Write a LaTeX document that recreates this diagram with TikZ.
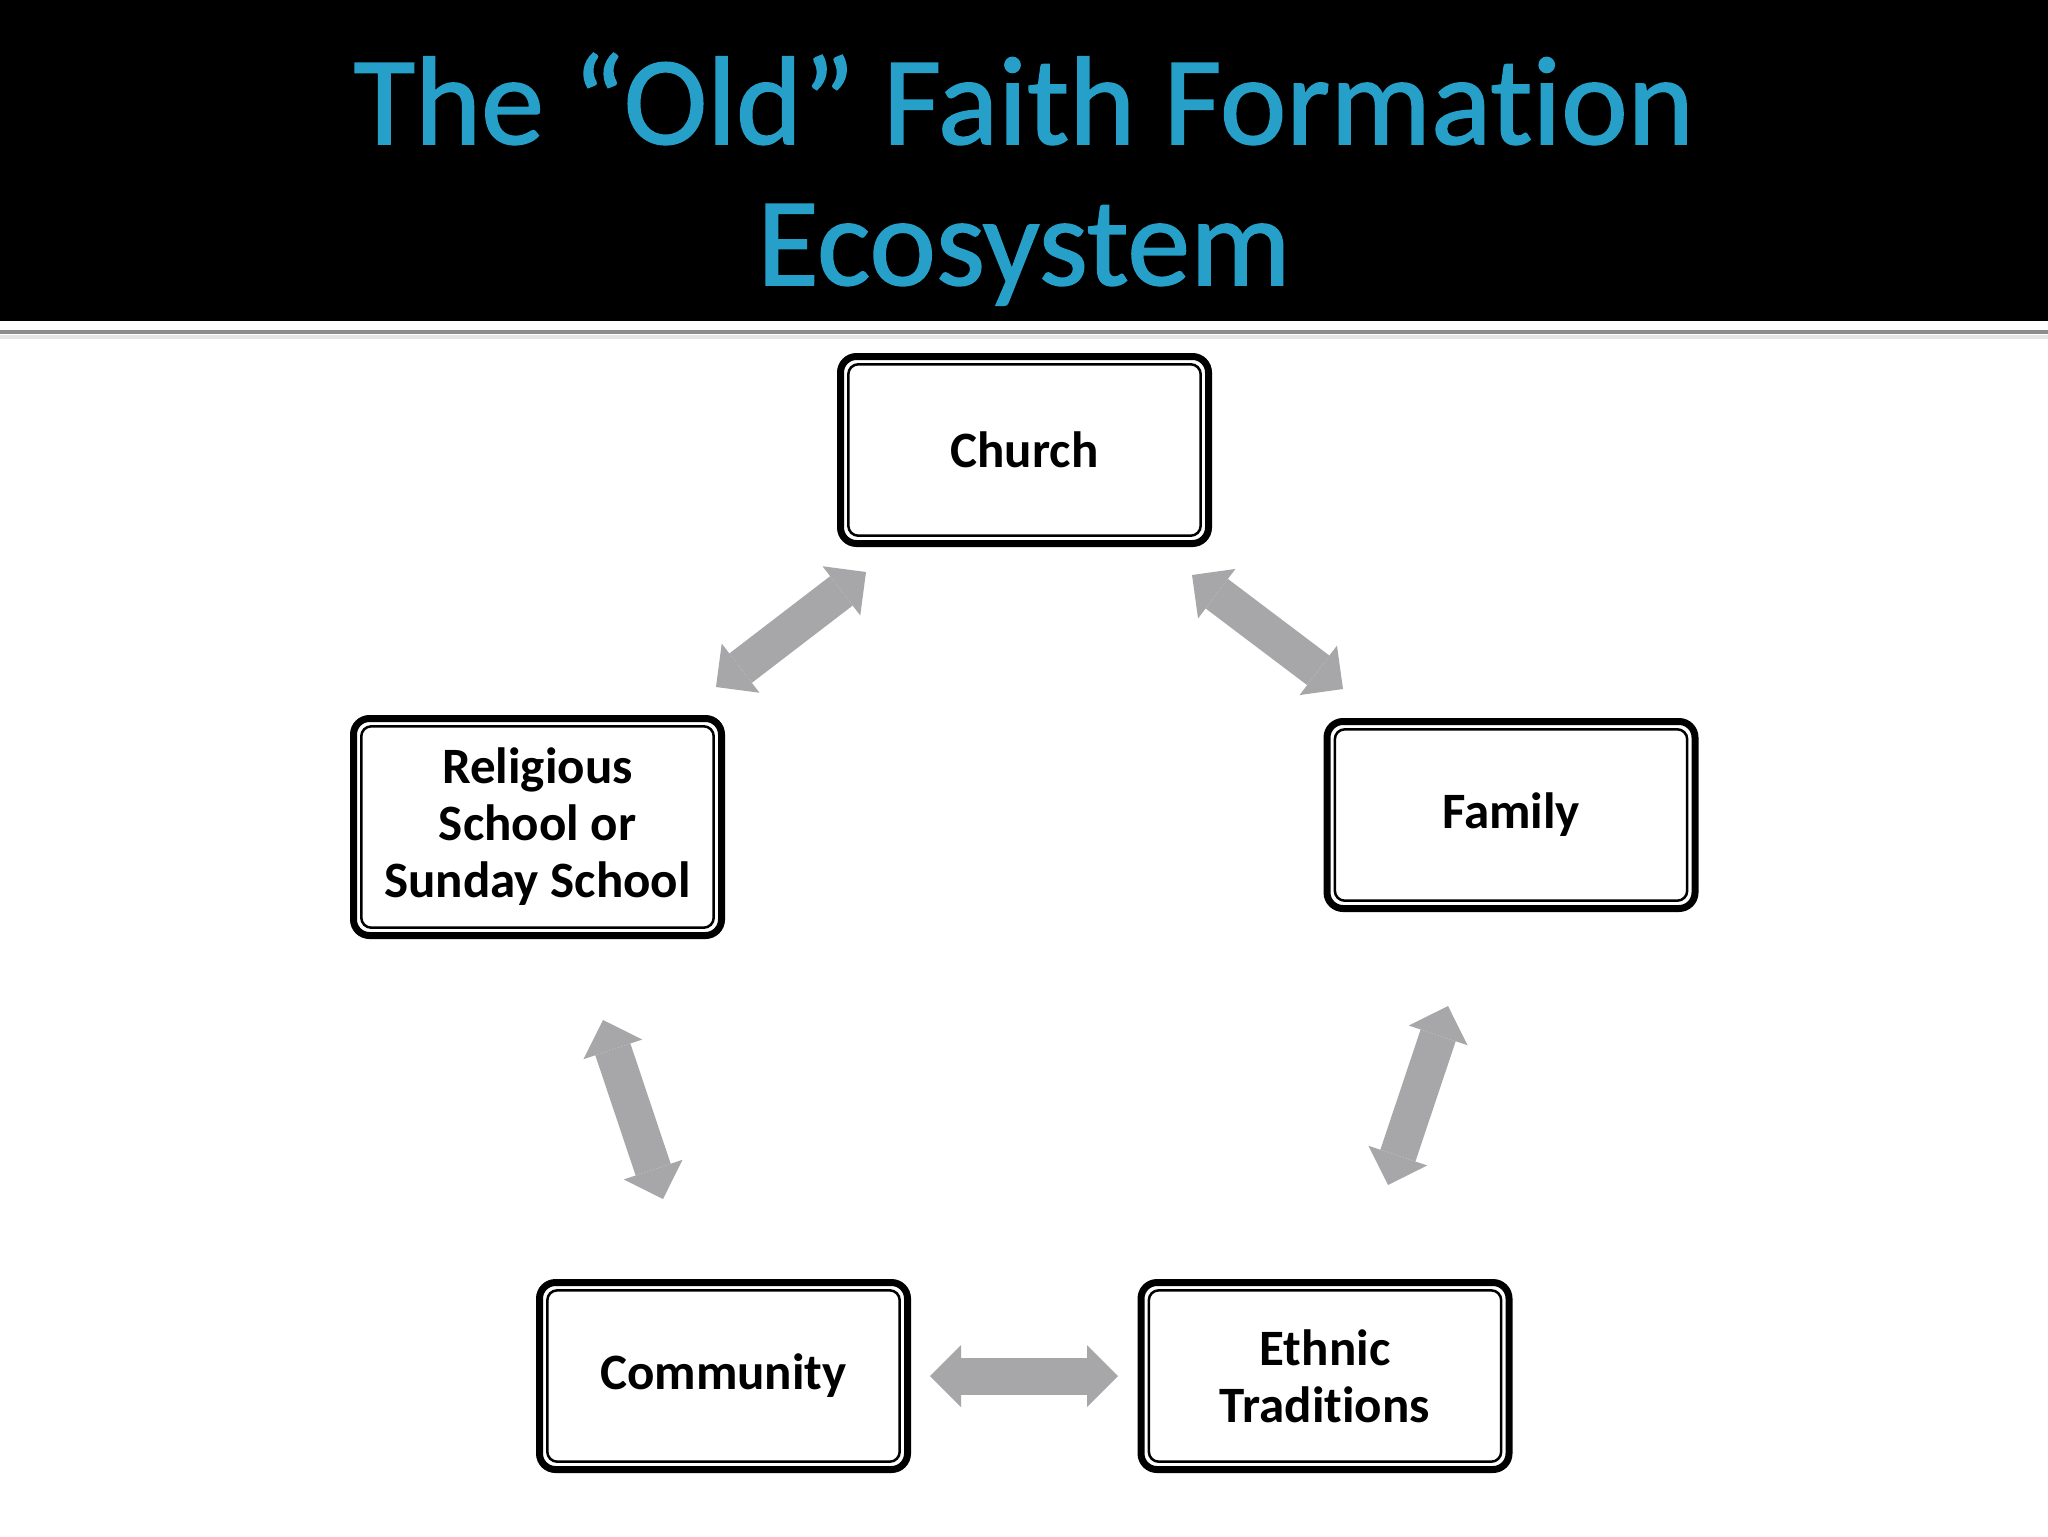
\documentclass[tikz,border=0pt]{standalone}
\usepackage{fontspec}
\setmainfont[Ligatures=NoCommon]{Carlito}
\newfontfamily\titlefont[Ligatures=NoCommon,FakeBold=1.2]{Carlito}
\usetikzlibrary{arrows.meta}
\definecolor{titleblue}{RGB}{38,160,200}
\definecolor{arrowgray}{RGB}{167,166,169}
\definecolor{rulegray}{RGB}{140,140,140}
\begin{document}
\begin{tikzpicture}[x=0.5pt,y=-0.5pt,
  box/.style={draw=black, line width=3.5pt, rounded corners=8pt, fill=white,
    minimum width=184pt, minimum height=93.5pt, inner sep=0pt, align=center,
    font=\fontsize{25.5}{28.5}\selectfont\bfseries,
    path picture={\draw[line width=1.25pt, rounded corners=5pt]
      ([shift={(3.9pt,3.9pt)}]path picture bounding box.south west) rectangle
      ([shift={(-3.9pt,-3.9pt)}]path picture bounding box.north east);}},
  garrow/.style={draw=arrowgray, line width=18.5pt,
    {Triangle[width=31pt,length=15.5pt,line width=0pt]}-{Triangle[width=31pt,length=15.5pt,line width=0pt]}},
  titletext/.style={text=titleblue, font=\titlefont\fontsize{63}{70}\selectfont, anchor=base, inner sep=0pt}]
\useasboundingbox (0,0) rectangle (2048,1536);
\fill[white] (0,0) rectangle (2048,1536);
\fill[black] (0,0) rectangle (2048,321);
\draw[black!10, line width=2pt] (0,337) -- (2048,337);
\draw[rulegray, line width=2pt] (0,332) -- (2048,332);

\node[titletext] (t1) at (1024,144) {The “Old” Faith Formation};
\node[titletext] (t2) at (1024,285) {Ecosystem};

\node[box] (church) at (1024.5,450) {Church};
\node[box, minimum height=108.5pt] (school) at (537.5,827) {Religious\\School or\\Sunday School};
\node[box] (family) at (1511,815) {Family};
\node[box] (community) at (723.5,1376) {Community};
\node[box] (ethnic) at (1325,1376) {Ethnic\\Traditions};

\coordinate (cr1) at (866,572);  \coordinate (cr2) at (716,687);
\coordinate (cf1) at (1192,575); \coordinate (cf2) at (1343,689);
\coordinate (rc1) at (603,1020); \coordinate (rc2) at (663,1199);
\coordinate (fe1) at (1448,1006); \coordinate (fe2) at (1388,1185);
\coordinate (ce1) at (930,1376); \coordinate (ce2) at (1118,1376);

\draw[garrow] (cr1) -- (cr2);
\draw[garrow] (cf1) -- (cf2);
\draw[garrow] (rc1) -- (rc2);
\draw[garrow] (fe1) -- (fe2);
\draw[garrow] (ce1) -- (ce2);
\end{tikzpicture}
\end{document}
